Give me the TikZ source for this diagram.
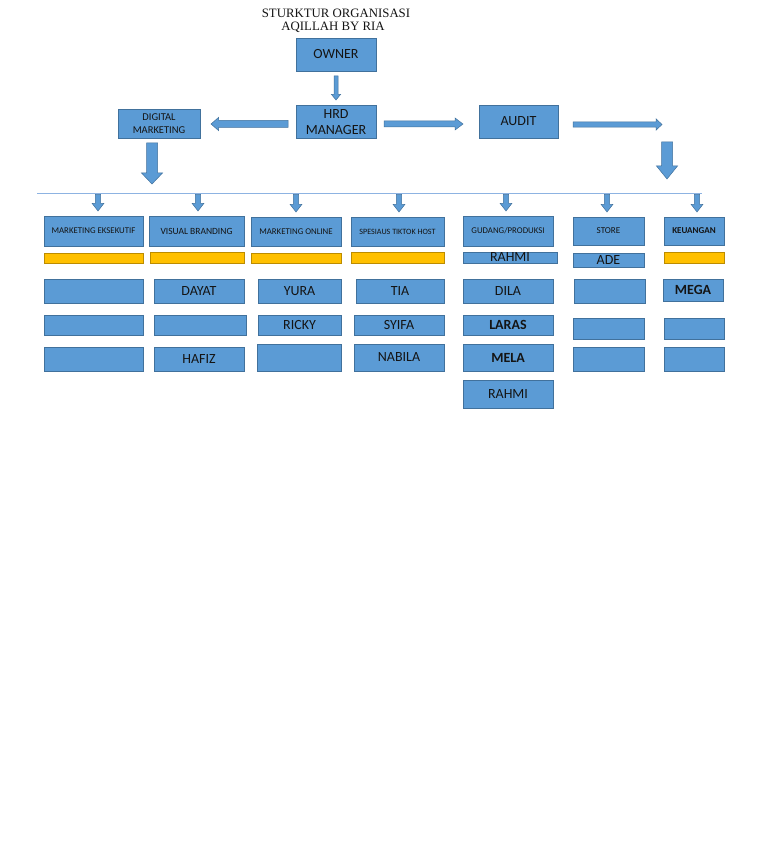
\documentclass[tikz,border=0pt]{standalone}
\usepackage{fontspec}
\setmainfont{Carlito}
\newfontfamily\titlefont{Liberation Serif}
\usetikzlibrary{calc}
\definecolor{bfill}{HTML}{5B9BD5}
\definecolor{bline}{HTML}{41719C}
\definecolor{yfill}{HTML}{FFC000}
\definecolor{yline}{HTML}{BC8C00}
\definecolor{hlinec}{HTML}{8DB3E2}
\definecolor{txt}{HTML}{141414}
\begin{document}
\begin{tikzpicture}[x=1pt,y=-1pt,
  box/.style={draw=bline, fill=bfill, line width=0.75pt, inner sep=0pt, outer sep=0pt, anchor=north west, align=center, text=txt},
  ybar/.style={draw=yline, fill=yfill, line width=0.6pt, inner sep=0pt, outer sep=0pt, anchor=north west},
  sz/.style 2 args={minimum width=#1pt, minimum height=#2pt},
  nm/.style={font=\fontsize{14}{16}\selectfont},
  bnm/.style={font=\bfseries\fontsize{14}{16}\selectfont},
  hd/.style={font=\fontsize{#1}{10}\selectfont},
  titl/.style={font=\titlefont\fontsize{12.8}{14}\selectfont, inner sep=0pt, text=txt},
  apaint/.style={fill=bfill, draw=bline, line width=0.5pt},
  barrow/.style n args={3}{
    to path={let \p1=(\tikztostart), \p2=(\tikztotarget),
      \n1={atan2(\y2-\y1,\x2-\x1)}, \n2={veclen(\x2-\x1,\y2-\y1)-#3} in
      ($(\p1)+(\n1+90:#1)$) -- ($(\p1)+(\n1:\n2)+(\n1+90:#1)$) --
      ($(\p1)+(\n1:\n2)+(\n1+90:#2)$) -- (\p2) --
      ($(\p1)+(\n1:\n2)+(\n1-90:#2)$) -- ($(\p1)+(\n1:\n2)+(\n1-90:#1)$) --
      ($(\p1)+(\n1-90:#1)$) -- cycle}},
  connline/.style={draw=hlinec, line width=1.5pt}
]
\useasboundingbox (0,0) rectangle (768,866);
\fill[white] (0,0) rectangle (768,866);

% title
\node[titl] (t1) at (336,13) {STURKTUR ORGANISASI};
\node[titl] (t2) at (333,27) {AQILLAH BY RIA};

% top level
\node[box, sz={80}{33}, nm, text depth=2pt] (owner) at (296,38) {OWNER};
\node[box, sz={80}{33}, nm] (hrd) at (296,105) {\rule{0pt}{11pt}HRD\\MANAGER};
\node[box, sz={82}{29}, font=\fontsize{10.5}{13}\selectfont] (dm) at (118,109) {DIGITAL\\MARKETING};
\node[box, sz={79}{33}, nm] (audit) at (479,105) {AUDIT};

% top arrows
\coordinate (o1) at ($(owner.south)+(0,5)$);
\coordinate (o2) at ($(hrd.north)+(0,-5)$);
\path[apaint] (o1) to[barrow={2pt}{4.5pt}{5.5pt}] (o2);
\coordinate (l1) at ($(hrd.west)+(-8,2.5)$);
\coordinate (l2) at ($(dm.east)+(11,0.5)$);
\path[apaint] (l1) to[barrow={3.5pt}{6.5pt}{7.5pt}] (l2);
\coordinate (r1) at ($(hrd.east)+(8,2.5)$);
\coordinate (r2) at ($(audit.west)+(-16,2.5)$);
\path[apaint] (r1) to[barrow={3pt}{6pt}{8pt}] (r2);
\coordinate (r3) at ($(audit.east)+(15,3)$);
\coordinate (r4) at (662,124.5);
\path[apaint] (r3) to[barrow={2.7pt}{5.7pt}{6pt}] (r4);
\coordinate (v1) at (667,142);
\coordinate (v2) at (667,179);
\path[apaint] (v1) to[barrow={5.5pt}{10.5pt}{13pt}] (v2);
\coordinate (dm1) at (152,143);
\coordinate (dm2) at (152,184);
\path[apaint] (dm1) to[barrow={5.5pt}{10.5pt}{11pt}] (dm2);

% distribution line
\coordinate (h1) at (37,193.5);
\coordinate (h2) at (702,193.5);
\draw[connline] (h1) -- (h2);

% column headers
\node[box, sz={99}{30}, hd=8.8] (me) at (44,216) {MARKETING EKSEKUTIF};
\node[box, sz={95}{30}, hd=9.5] (vb) at (149,216) {VISUAL BRANDING};
\node[box, sz={90}{29}, hd=8.8] (mo) at (251,217) {MARKETING ONLINE};
\node[box, sz={93}{29.5}, hd=8.1] (sp) at (351,217) {SPESIAUS TIKTOK HOST};
\node[box, sz={90}{30}, hd=8.8] (gp) at (463,216) {GUDANG/PRODUKSI};
\node[box, sz={71}{28}, hd=9.1] (st) at (573,217) {STORE};
\node[box, sz={60}{28}, font=\bfseries\fontsize{9}{10}\selectfont] (ke) at (664,217) {KEUANGAN};

% small arrows
\foreach \xx/\col in {98/me,198/vb,296/mo,399/sp,506/gp,607/st,697/ke}{
  \coordinate (s\col) at (\xx,194.5);
  \coordinate (e\col) at ($(s\col |- \col.north)+(0,-5)$);
  \path[apaint] (s\col) to[barrow={2.6pt}{5.8pt}{7.5pt}] (e\col);
}

% second row bars
\node[ybar, sz={99}{10.5}] (me0) at (44,253) {};
\node[ybar, sz={94}{11}] (vb0) at (150,252) {};
\node[ybar, sz={90}{10.5}] (mo0) at (251,253) {};
\node[ybar, sz={93}{11}] (sp0) at (351,252) {};
\node[box, sz={94}{11}, nm] (gp0) at (463,252) {RAHMI};
\node[box, sz={71}{14}, nm] (st0) at (573,253) {ADE};
\node[ybar, sz={60}{11}] (ke0) at (664,252) {};

% column 1
\node[box, sz={99}{24}] (me1) at (44,279) {};
\node[box, sz={99}{20}] (me2) at (44,315) {};
\node[box, sz={99}{24}] (me3) at (44,347) {};
% column 2
\node[box, sz={90}{24}, nm] (vb1) at (154,279) {DAYAT};
\node[box, sz={92}{20}] (vb2) at (154,315) {};
\node[box, sz={90}{24}, nm] (vb3) at (154,347) {HAFIZ};
% column 3
\node[box, sz={83}{24}, nm] (mo1) at (258,279) {YURA};
\node[box, sz={83}{20}, nm] (mo2) at (258,315) {RICKY};
\node[box, sz={84}{27}] (mo3) at (257,344) {};
% column 4
\node[box, sz={88}{24}, nm] (sp1) at (356,279) {TIA};
\node[box, sz={90}{20}, nm] (sp2) at (354,315) {SYIFA};
\node[box, sz={90}{27}, nm] (sp3) at (354,344) {NABILA};
% column 5
\node[box, sz={90}{24}, nm] (gp1) at (463,279) {DILA};
\node[box, sz={90}{20}, bnm] (gp2) at (463,315) {LARAS};
\node[box, sz={90}{27}, bnm] (gp3) at (463,344) {MELA};
\node[box, sz={90}{28}, nm] (gp4) at (463,380) {RAHMI};
% column 6
\node[box, sz={71}{24}] (st1) at (574,279) {};
\node[box, sz={71}{21}] (st2) at (573,318) {};
\node[box, sz={71}{24}] (st3) at (573,347) {};
% column 7
\node[box, sz={60}{22}, bnm] (ke1) at (663,279) {MEGA};
\node[box, sz={60}{21}] (ke2) at (664,318) {};
\node[box, sz={60}{24}] (ke3) at (664,347) {};
\end{tikzpicture}
\end{document}
